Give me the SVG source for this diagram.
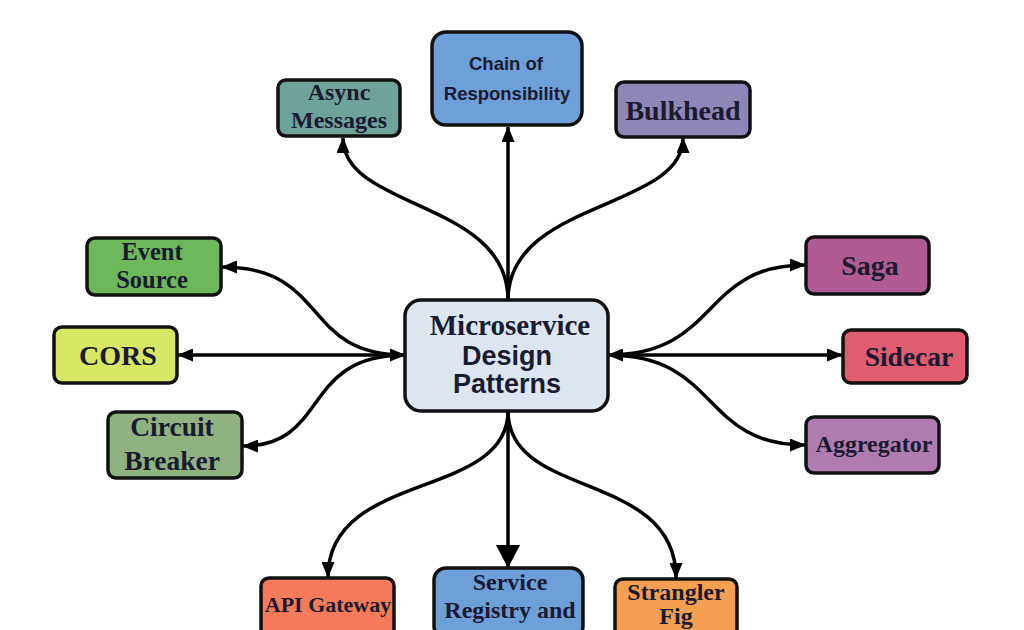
<svg xmlns="http://www.w3.org/2000/svg" width="1024" height="630" viewBox="0 0 1024 630">
<defs>
<style>
.box{stroke:#111;stroke-width:3.5}
.s{font-family:"Liberation Serif","Times New Roman",serif;font-weight:bold;fill:#1a1a30;text-anchor:middle}
.a{font-family:"Liberation Sans",Arial,sans-serif;font-weight:bold;fill:#1a1a30;text-anchor:middle}
.c{fill:none;stroke:#000;stroke-width:3.5}
</style>
<marker id="ah" viewBox="0 0 16 13" refX="15" refY="6.5" markerWidth="16" markerHeight="13" markerUnits="userSpaceOnUse" orient="auto-start-reverse"><path d="M0,0 L16,6.5 L0,13 Z" fill="#000"/></marker>
<marker id="big" viewBox="0 0 23 24" refX="22" refY="12" markerWidth="23" markerHeight="24" markerUnits="userSpaceOnUse" orient="auto"><path d="M0,0 L23,12 L0,24 Z" fill="#000"/></marker>
</defs>
<rect width="1024" height="630" fill="#fff"/>
<g id="connectors">
<path class="c" d="M508,300 C508,200 343,210 343,138" marker-end="url(#ah)"/>
<path class="c" d="M508,300 L508,127" marker-end="url(#ah)"/>
<path class="c" d="M508,300 C508,200 683,210 683,138" marker-end="url(#ah)"/>
<path class="c" d="M405,355 C300,355 330,267 222,267" marker-end="url(#ah)"/>
<path class="c" d="M405,355 L178,355" marker-start="url(#ah)" marker-end="url(#ah)"/>
<path class="c" d="M405,355 C300,355 330,446 243,446" marker-end="url(#ah)"/>
<path class="c" d="M608,355 C720,355 700,265 805,265" marker-end="url(#ah)"/>
<path class="c" d="M608,355 L842,355" marker-start="url(#ah)" marker-end="url(#ah)"/>
<path class="c" d="M608,355 C720,355 700,445 805,445" marker-end="url(#ah)"/>
<path class="c" d="M508,411 C508,500 328,470 328,577" marker-end="url(#ah)"/>
<path class="c" d="M508,411 L508,567" marker-end="url(#big)"/>
<path class="c" d="M508,411 C508,500 676,470 676,578" marker-end="url(#ah)"/>
</g>
<g id="center"><rect class="box" x="405" y="300" width="203" height="111" rx="16" fill="#dde6f0"/>
<text class="s" x="510" y="335" font-size="29">Microservice</text>
<text class="a" x="507" y="365" font-size="27">Design</text>
<text class="a" x="507" y="393" font-size="27">Patterns</text></g>
<g id="async"><rect class="box" x="278" y="80" width="122" height="56" rx="8" fill="#6fa39a"/>
<text class="s" x="339" y="100" font-size="24">Async</text><text class="s" x="339" y="128" font-size="24">Messages</text></g>
<g id="chain"><rect class="box" x="432" y="32" width="150" height="93" rx="14" fill="#6f9fd8"/>
<text class="a" x="506" y="70" font-size="18.5">Chain of</text><text class="a" x="507" y="100" font-size="18.5">Responsibility</text></g>
<g id="bulkhead"><rect class="box" x="616" y="82" width="134" height="55" rx="8" fill="#8f86b8"/>
<text class="s" x="683" y="120" font-size="28">Bulkhead</text></g>
<g id="event"><rect class="box" x="87" y="238" width="134" height="57" rx="8" fill="#6cb85a"/>
<text class="s" x="152" y="260" font-size="24.5">Event</text><text class="s" x="152" y="288" font-size="24.5">Source</text></g>
<g id="cors"><rect class="box" x="54" y="327" width="123" height="56" rx="8" fill="#d8e865"/>
<text class="s" x="118" y="365" font-size="28">CORS</text></g>
<g id="circuit"><rect class="box" x="108" y="412" width="134" height="66" rx="8" fill="#8fb380"/>
<text class="s" x="172" y="436" font-size="27.5">Circuit</text><text class="s" x="172" y="470" font-size="27.5">Breaker</text></g>
<g id="saga"><rect class="box" x="806" y="237" width="123" height="57" rx="8" fill="#b05b93"/>
<text class="s" x="870" y="275" font-size="28">Saga</text></g>
<g id="sidecar"><rect class="box" x="843" y="330" width="124" height="53" rx="8" fill="#e05c70"/>
<text class="s" x="909" y="366" font-size="27.5">Sidecar</text></g>
<g id="aggregator"><rect class="box" x="806" y="417" width="133" height="56" rx="8" fill="#b07bb0"/>
<text class="s" x="874" y="452" font-size="24">Aggregator</text></g>
<g id="apigw"><rect class="box" x="261" y="578" width="133" height="60" rx="8" fill="#f57a5a"/>
<text class="s" x="328" y="612" font-size="22">API Gateway</text></g>
<g id="registry"><rect class="box" x="434" y="568" width="149" height="70" rx="12" fill="#6f9fd8"/>
<text class="s" x="510" y="590" font-size="24">Service</text><text class="s" x="510" y="618" font-size="24">Registry and</text></g>
<g id="strangler"><rect class="box" x="615" y="579" width="122" height="60" rx="8" fill="#f5a050"/>
<text class="s" x="676" y="600" font-size="24">Strangler</text><text class="s" x="676" y="624" font-size="24">Fig</text></g>
</svg>
